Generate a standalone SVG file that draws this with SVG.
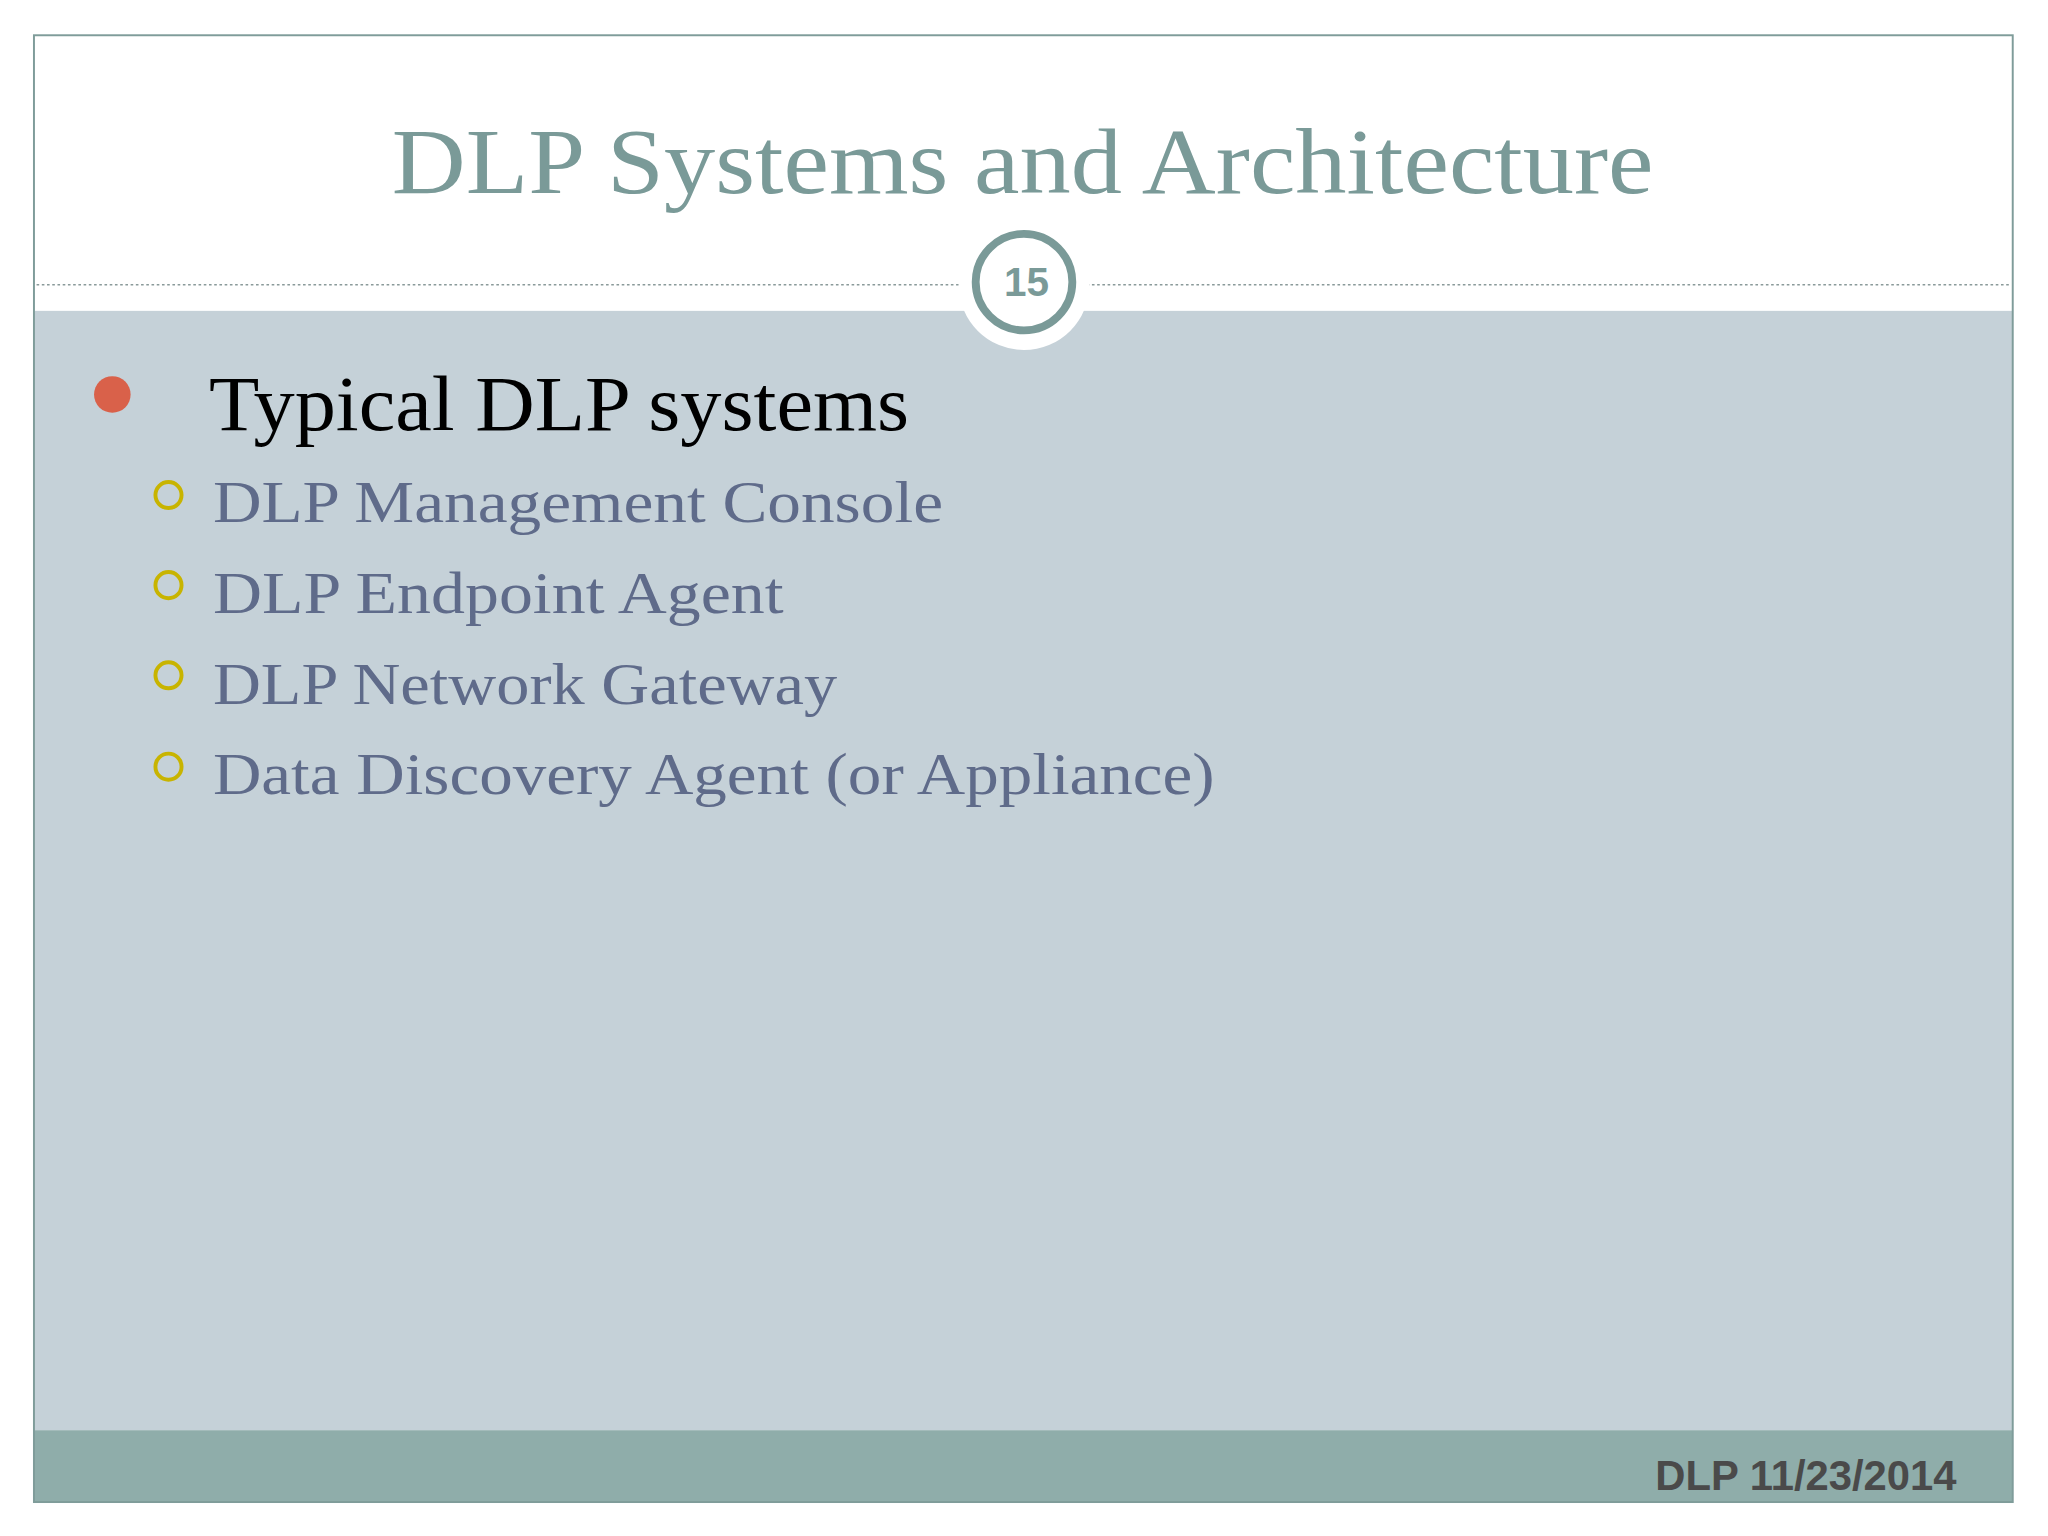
<svg xmlns="http://www.w3.org/2000/svg" width="2048" height="1536" viewBox="0 0 2048 1536">
<style>
.sub{font-family:"Liberation Serif",serif;font-size:46px;fill:#5f6b8a}
.hb{fill:none;stroke:#c8b400;stroke-width:3}
</style>
<rect width="2048" height="1536" fill="#fff"/>
<g transform="scale(1.30612)">
<rect x="26" y="238" width="1515" height="857" fill="#c5d1d8"/>
<rect x="26" y="1095" width="1515" height="55" fill="#8fadaa"/>
<rect x="26" y="27" width="1515" height="1123" fill="none" stroke="#7f9c9a" stroke-width="1.5"/>
<line x1="28" y1="218" x2="1540" y2="218" stroke="#8a9a9a" stroke-width="1" stroke-dasharray="2,2"/>
<g id="title"><text x="300" y="148" textLength="966" lengthAdjust="spacingAndGlyphs" font-family="Liberation Serif,serif" font-size="72" fill="#7a9a98">DLP Systems and Architecture</text></g>
<g id="pagenum">
<circle cx="784" cy="218" r="50" fill="#fff"/>
<circle cx="784" cy="216" r="37" fill="#fff" stroke="#7a9a98" stroke-width="6"/>
<text x="786" y="227" text-anchor="middle" font-family="Liberation Sans,sans-serif" font-weight="bold" font-size="31" fill="#7a9a98">15</text>
</g>
<g id="main"><circle cx="86" cy="302" r="14" fill="#d9614a"/>
<text x="160" y="329" textLength="536" lengthAdjust="spacingAndGlyphs" font-family="Liberation Serif,serif" font-size="60" fill="#000">Typical DLP systems</text></g>
<g id="items">
<circle class="hb" cx="129" cy="379" r="10"/><text class="sub" x="163" y="400" textLength="559" lengthAdjust="spacingAndGlyphs">DLP Management Console</text>
<circle class="hb" cx="129" cy="448" r="10"/><text class="sub" x="163" y="469" textLength="437" lengthAdjust="spacingAndGlyphs">DLP Endpoint Agent</text>
<circle class="hb" cx="129" cy="517" r="10"/><text class="sub" x="163" y="539" textLength="478" lengthAdjust="spacingAndGlyphs">DLP Network Gateway</text>
<circle class="hb" cx="129" cy="587" r="10"/><text class="sub" x="163" y="608" textLength="767" lengthAdjust="spacingAndGlyphs">Data Discovery Agent (or Appliance)</text>
</g>
<g id="footer"><text x="1498" y="1141" text-anchor="end" font-family="Liberation Sans,sans-serif" font-weight="bold" font-size="32" fill="#4a4a4a">DLP 11/23/2014</text></g>
</g>
</svg>
